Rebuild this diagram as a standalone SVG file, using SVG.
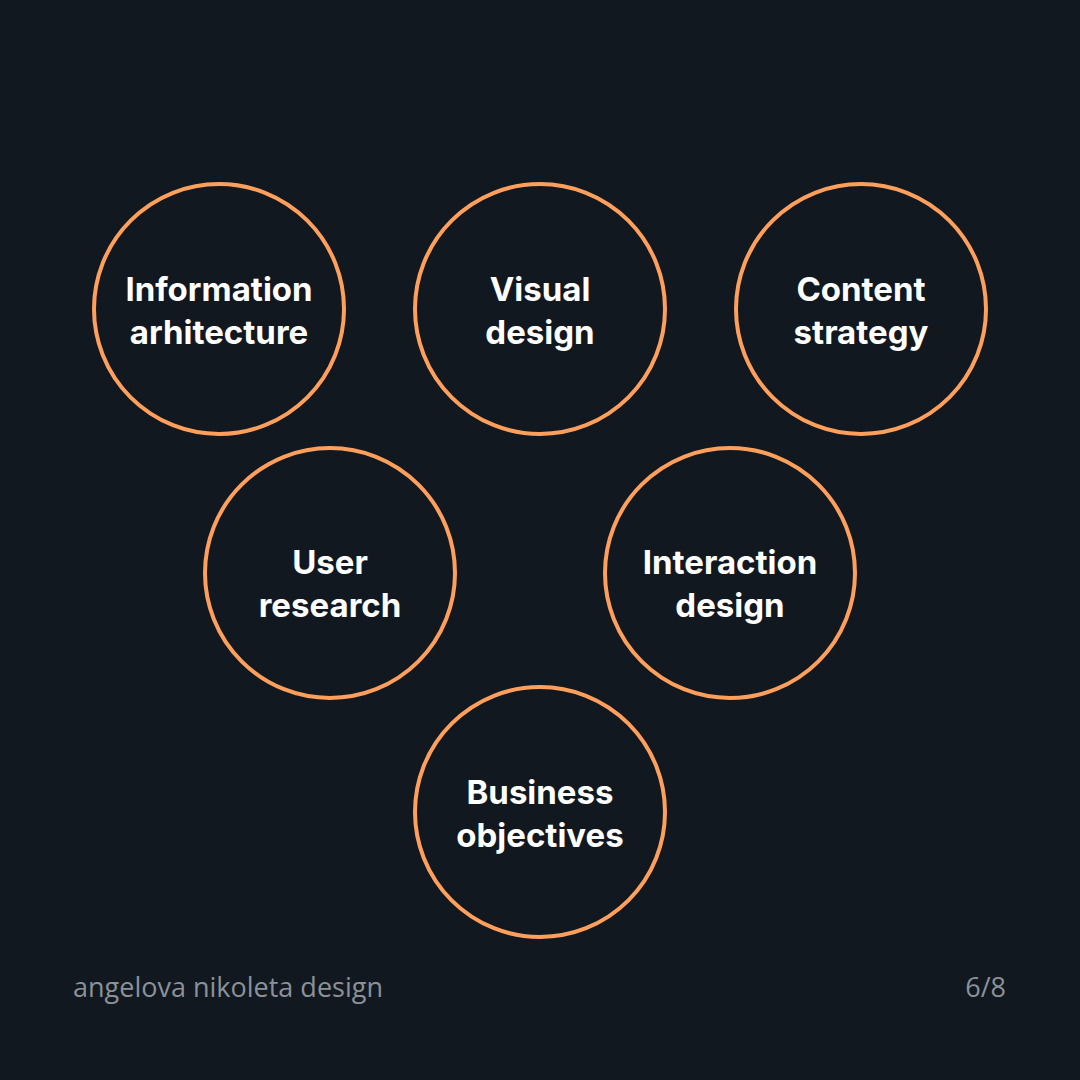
<svg xmlns="http://www.w3.org/2000/svg" width="1080" height="1080" viewBox="0 0 1080 1080">
<style>
.c{fill:none;stroke:#FF9F5C;stroke-width:4}
.t{font-family:Inter,"Open Sans",sans-serif;font-weight:700;font-size:33px;fill:#fff;text-anchor:middle}
.f{font-family:"Open Sans","Noto Sans",sans-serif;font-size:27px;fill:#8B9199}
</style>
<rect width="1080" height="1080" fill="#11181F"/>
<g id="n1"><circle class="c" cx="219" cy="309" r="125"/><text class="t" x="219" y="301">Information</text><text class="t" x="219" y="344">arhitecture</text></g>
<g id="n2"><circle class="c" cx="540" cy="309" r="125"/><text class="t" x="540" y="301">Visual</text><text class="t" x="540" y="344">design</text></g>
<g id="n3"><circle class="c" cx="861" cy="309" r="125"/><text class="t" x="861" y="301">Content</text><text class="t" x="861" y="344">strategy</text></g>
<g id="n4"><circle class="c" cx="330" cy="573" r="125"/><text class="t" x="330" y="574">User</text><text class="t" x="330" y="617">research</text></g>
<g id="n5"><circle class="c" cx="730" cy="573" r="125"/><text class="t" x="730" y="574">Interaction</text><text class="t" x="730" y="617">design</text></g>
<g id="n6"><circle class="c" cx="540" cy="812" r="125"/><text class="t" x="540" y="804">Business</text><text class="t" x="540" y="847">objectives</text></g>
<g id="connectors"/>
<text class="f" x="73" y="997">angelova nikoleta design</text>
<text class="f" x="1006" y="997" text-anchor="end">6/8</text>
</svg>
